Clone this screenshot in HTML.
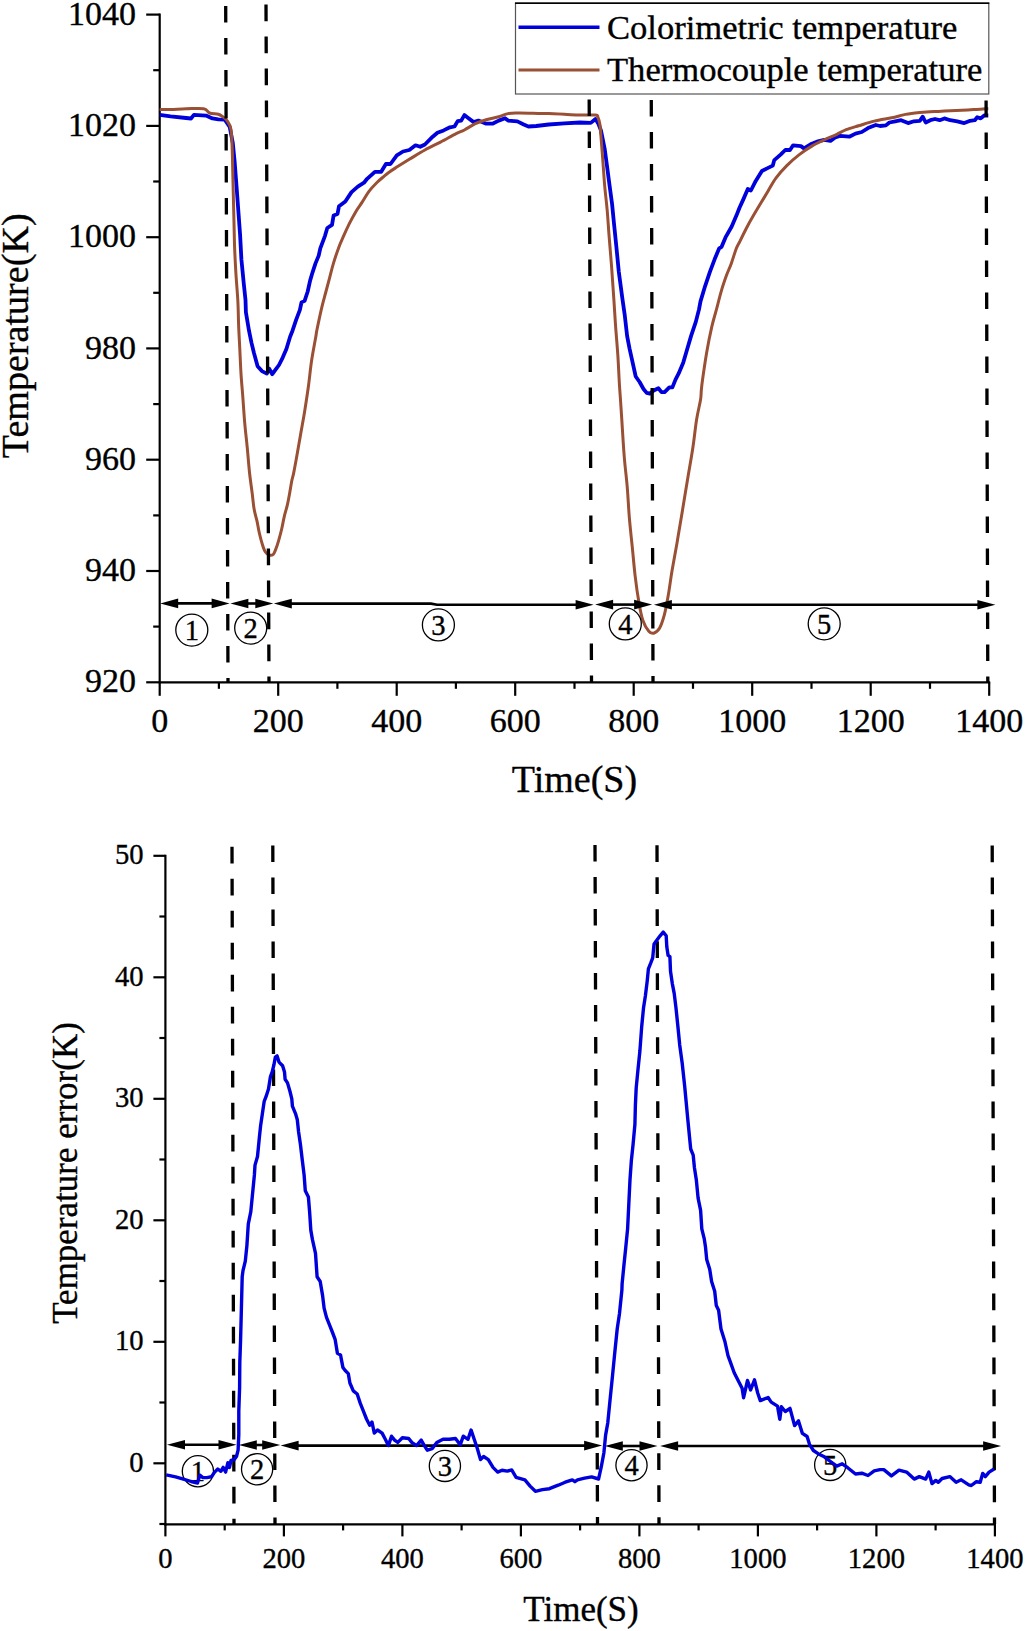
<!DOCTYPE html>
<html><head><meta charset="utf-8"><title>Temperature comparison</title>
<style>html,body{margin:0;padding:0;background:#fff;width:1025px;height:1631px;overflow:hidden}svg{display:block}text{stroke:#000;stroke-width:0.35px;paint-order:stroke}</style>
</head><body>
<svg width="1025" height="1631" viewBox="0 0 1025 1631" font-family="'Liberation Serif','Times New Roman',serif" fill="#000">
<rect width="1025" height="1631" fill="#fff"/>
<line x1="159.7" y1="13.6" x2="159.7" y2="683.3" stroke="#000" stroke-width="2.2"/>
<line x1="158.7" y1="682.3" x2="990.2" y2="682.3" stroke="#000" stroke-width="2.2"/>
<line x1="146.2" y1="14.6" x2="159.7" y2="14.6" stroke="#000" stroke-width="2.2"/>
<text x="136" y="24.7" font-size="34" text-anchor="end">1040</text>
<line x1="146.2" y1="125.9" x2="159.7" y2="125.9" stroke="#000" stroke-width="2.2"/>
<text x="136" y="135.9" font-size="34" text-anchor="end">1020</text>
<line x1="146.2" y1="237.2" x2="159.7" y2="237.2" stroke="#000" stroke-width="2.2"/>
<text x="136" y="247.2" font-size="34" text-anchor="end">1000</text>
<line x1="146.2" y1="348.4" x2="159.7" y2="348.4" stroke="#000" stroke-width="2.2"/>
<text x="136" y="358.5" font-size="34" text-anchor="end">980</text>
<line x1="146.2" y1="459.7" x2="159.7" y2="459.7" stroke="#000" stroke-width="2.2"/>
<text x="136" y="469.8" font-size="34" text-anchor="end">960</text>
<line x1="146.2" y1="571.0" x2="159.7" y2="571.0" stroke="#000" stroke-width="2.2"/>
<text x="136" y="581.1" font-size="34" text-anchor="end">940</text>
<line x1="146.2" y1="682.3" x2="159.7" y2="682.3" stroke="#000" stroke-width="2.2"/>
<text x="136" y="692.3" font-size="34" text-anchor="end">920</text>
<line x1="153.2" y1="70.2" x2="159.7" y2="70.2" stroke="#000" stroke-width="2.2"/>
<line x1="153.2" y1="181.5" x2="159.7" y2="181.5" stroke="#000" stroke-width="2.2"/>
<line x1="153.2" y1="292.8" x2="159.7" y2="292.8" stroke="#000" stroke-width="2.2"/>
<line x1="153.2" y1="404.1" x2="159.7" y2="404.1" stroke="#000" stroke-width="2.2"/>
<line x1="153.2" y1="515.4" x2="159.7" y2="515.4" stroke="#000" stroke-width="2.2"/>
<line x1="153.2" y1="626.6" x2="159.7" y2="626.6" stroke="#000" stroke-width="2.2"/>
<line x1="159.7" y1="682.3" x2="159.7" y2="695.8" stroke="#000" stroke-width="2.2"/>
<text x="159.7" y="731.5" font-size="34" text-anchor="middle">0</text>
<line x1="218.9" y1="682.3" x2="218.9" y2="688.8" stroke="#000" stroke-width="2.2"/>
<line x1="278.2" y1="682.3" x2="278.2" y2="695.8" stroke="#000" stroke-width="2.2"/>
<text x="278.2" y="731.5" font-size="34" text-anchor="middle">200</text>
<line x1="337.4" y1="682.3" x2="337.4" y2="688.8" stroke="#000" stroke-width="2.2"/>
<line x1="396.7" y1="682.3" x2="396.7" y2="695.8" stroke="#000" stroke-width="2.2"/>
<text x="396.7" y="731.5" font-size="34" text-anchor="middle">400</text>
<line x1="455.9" y1="682.3" x2="455.9" y2="688.8" stroke="#000" stroke-width="2.2"/>
<line x1="515.2" y1="682.3" x2="515.2" y2="695.8" stroke="#000" stroke-width="2.2"/>
<text x="515.2" y="731.5" font-size="34" text-anchor="middle">600</text>
<line x1="574.5" y1="682.3" x2="574.5" y2="688.8" stroke="#000" stroke-width="2.2"/>
<line x1="633.7" y1="682.3" x2="633.7" y2="695.8" stroke="#000" stroke-width="2.2"/>
<text x="633.7" y="731.5" font-size="34" text-anchor="middle">800</text>
<line x1="693.0" y1="682.3" x2="693.0" y2="688.8" stroke="#000" stroke-width="2.2"/>
<line x1="752.2" y1="682.3" x2="752.2" y2="695.8" stroke="#000" stroke-width="2.2"/>
<text x="752.2" y="731.5" font-size="34" text-anchor="middle">1000</text>
<line x1="811.5" y1="682.3" x2="811.5" y2="688.8" stroke="#000" stroke-width="2.2"/>
<line x1="870.7" y1="682.3" x2="870.7" y2="695.8" stroke="#000" stroke-width="2.2"/>
<text x="870.7" y="731.5" font-size="34" text-anchor="middle">1200</text>
<line x1="930.0" y1="682.3" x2="930.0" y2="688.8" stroke="#000" stroke-width="2.2"/>
<line x1="989.2" y1="682.3" x2="989.2" y2="695.8" stroke="#000" stroke-width="2.2"/>
<text x="989.2" y="731.5" font-size="34" text-anchor="middle">1400</text>
<text x="574.5" y="791.5" font-size="38" text-anchor="middle">Time(S)</text>
<text transform="translate(28,335.8) rotate(-90)" font-size="38.1" text-anchor="middle">Temperature(K)</text>
<line x1="165.4" y1="854.8" x2="165.4" y2="1525.4" stroke="#000" stroke-width="2.2"/>
<line x1="164.4" y1="1524.4" x2="995.9" y2="1524.4" stroke="#000" stroke-width="2.2"/>
<line x1="153.4" y1="855.8" x2="165.4" y2="855.8" stroke="#000" stroke-width="2.2"/>
<text x="143.5" y="864.0" font-size="28.6" text-anchor="end">50</text>
<line x1="153.4" y1="977.3" x2="165.4" y2="977.3" stroke="#000" stroke-width="2.2"/>
<text x="143.5" y="985.5" font-size="28.6" text-anchor="end">40</text>
<line x1="153.4" y1="1098.8" x2="165.4" y2="1098.8" stroke="#000" stroke-width="2.2"/>
<text x="143.5" y="1107.0" font-size="28.6" text-anchor="end">30</text>
<line x1="153.4" y1="1220.3" x2="165.4" y2="1220.3" stroke="#000" stroke-width="2.2"/>
<text x="143.5" y="1228.5" font-size="28.6" text-anchor="end">20</text>
<line x1="153.4" y1="1341.8" x2="165.4" y2="1341.8" stroke="#000" stroke-width="2.2"/>
<text x="143.5" y="1350.0" font-size="28.6" text-anchor="end">10</text>
<line x1="153.4" y1="1463.3" x2="165.4" y2="1463.3" stroke="#000" stroke-width="2.2"/>
<text x="143.5" y="1471.5" font-size="28.6" text-anchor="end">0</text>
<line x1="159.4" y1="916.5" x2="165.4" y2="916.5" stroke="#000" stroke-width="2.2"/>
<line x1="159.4" y1="1038.0" x2="165.4" y2="1038.0" stroke="#000" stroke-width="2.2"/>
<line x1="159.4" y1="1159.5" x2="165.4" y2="1159.5" stroke="#000" stroke-width="2.2"/>
<line x1="159.4" y1="1281.0" x2="165.4" y2="1281.0" stroke="#000" stroke-width="2.2"/>
<line x1="159.4" y1="1402.5" x2="165.4" y2="1402.5" stroke="#000" stroke-width="2.2"/>
<line x1="159.4" y1="1524.0" x2="165.4" y2="1524.0" stroke="#000" stroke-width="2.2"/>
<line x1="165.4" y1="1524.4" x2="165.4" y2="1536.4" stroke="#000" stroke-width="2.2"/>
<text x="165.4" y="1567.5" font-size="28.6" text-anchor="middle">0</text>
<line x1="224.7" y1="1524.4" x2="224.7" y2="1530.4" stroke="#000" stroke-width="2.2"/>
<line x1="283.9" y1="1524.4" x2="283.9" y2="1536.4" stroke="#000" stroke-width="2.2"/>
<text x="283.9" y="1567.5" font-size="28.6" text-anchor="middle">200</text>
<line x1="343.1" y1="1524.4" x2="343.1" y2="1530.4" stroke="#000" stroke-width="2.2"/>
<line x1="402.4" y1="1524.4" x2="402.4" y2="1536.4" stroke="#000" stroke-width="2.2"/>
<text x="402.4" y="1567.5" font-size="28.6" text-anchor="middle">400</text>
<line x1="461.6" y1="1524.4" x2="461.6" y2="1530.4" stroke="#000" stroke-width="2.2"/>
<line x1="520.9" y1="1524.4" x2="520.9" y2="1536.4" stroke="#000" stroke-width="2.2"/>
<text x="520.9" y="1567.5" font-size="28.6" text-anchor="middle">600</text>
<line x1="580.1" y1="1524.4" x2="580.1" y2="1530.4" stroke="#000" stroke-width="2.2"/>
<line x1="639.4" y1="1524.4" x2="639.4" y2="1536.4" stroke="#000" stroke-width="2.2"/>
<text x="639.4" y="1567.5" font-size="28.6" text-anchor="middle">800</text>
<line x1="698.6" y1="1524.4" x2="698.6" y2="1530.4" stroke="#000" stroke-width="2.2"/>
<line x1="757.9" y1="1524.4" x2="757.9" y2="1536.4" stroke="#000" stroke-width="2.2"/>
<text x="757.9" y="1567.5" font-size="28.6" text-anchor="middle">1000</text>
<line x1="817.1" y1="1524.4" x2="817.1" y2="1530.4" stroke="#000" stroke-width="2.2"/>
<line x1="876.4" y1="1524.4" x2="876.4" y2="1536.4" stroke="#000" stroke-width="2.2"/>
<text x="876.4" y="1567.5" font-size="28.6" text-anchor="middle">1200</text>
<line x1="935.6" y1="1524.4" x2="935.6" y2="1530.4" stroke="#000" stroke-width="2.2"/>
<line x1="994.9" y1="1524.4" x2="994.9" y2="1536.4" stroke="#000" stroke-width="2.2"/>
<text x="994.9" y="1567.5" font-size="28.6" text-anchor="middle">1400</text>
<text x="581" y="1621" font-size="35" text-anchor="middle">Time(S)</text>
<text transform="translate(76.5,1173) rotate(-90)" font-size="35" text-anchor="middle">Temperature error(K)</text>
<polyline points="159.7,114.8 170.6,116.3 186.2,118.0 191.0,118.5 193.9,114.9 206.0,115.6 212.4,118.4 218.3,119.3 224.8,119.6 229.7,127.0 232.8,142.9 234.6,161.3 236.5,185.8 238.3,210.4 240.1,234.9 241.4,259.4 243.8,283.9 245.5,300.0 245.9,312.3 249.0,330.7 251.5,342.9 253.9,352.7 257.6,366.2 261.9,371.1 266.8,373.6 269.2,368.7 272.3,374.2 275.4,369.9 279.0,365.0 282.7,357.6 286.4,349.0 290.1,336.8 292.5,330.7 296.2,319.6 299.9,309.8 301.5,302.4 304.6,300.9 307.7,291.5 310.1,280.6 312.4,272.8 315.5,263.4 318.7,255.6 320.3,248.3 325.0,235.8 327.3,228.0 332.0,224.9 333.6,215.5 337.5,214.0 339.0,206.2 345.3,201.5 351.5,192.1 357.8,186.6 364.0,182.7 367.1,178.8 374.9,171.8 381.2,171.8 385.9,164.0 390.5,164.0 396.8,155.4 403.0,151.5 409.3,150.0 415.5,145.3 420.2,146.8 424.9,144.5 432.7,136.7 437.4,132.8 443.6,130.4 449.9,127.3 454.5,126.5 457.7,121.1 461.2,120.6 464.4,115.1 467.5,117.5 473.7,122.1 478.4,120.6 486.2,123.7 492.5,123.7 498.7,120.6 505.0,118.2 508.1,120.6 517.4,121.4 523.7,124.5 528.4,126.5 536.2,126.0 548.7,124.5 564.3,123.4 579.9,122.5 590.8,122.9 595.5,119.0 598.5,124.0 601.0,130.7 604.7,149.0 607.2,167.4 609.6,185.8 612.1,204.2 613.9,222.6 616.4,247.1 618.8,271.7 622.3,298.0 624.8,315.6 627.1,335.9 629.5,348.4 632.6,362.4 635.7,376.5 639.6,382.0 643.5,389.0 646.7,392.9 649.8,393.7 653.7,390.5 658.4,388.2 661.5,392.1 664.6,392.1 669.3,387.4 672.4,387.4 675.5,379.6 678.7,373.4 683.3,362.4 686.5,351.5 691.1,335.9 695.8,321.9 699.0,309.4 700.5,301.4 705.2,285.8 709.9,271.8 714.6,259.3 719.2,248.3 721.6,246.8 725.5,237.4 731.7,226.5 736.4,215.6 739.5,207.8 743.1,199.9 747.8,189.0 750.9,190.5 755.6,181.2 761.9,171.0 768.1,167.9 772.8,165.6 774.3,160.1 780.6,154.6 785.3,150.0 790.0,150.0 793.1,145.3 800.9,146.1 804.0,148.4 811.8,143.7 818.0,141.4 824.3,139.8 830.5,140.9 835.2,137.5 839.9,135.9 849.3,136.7 855.5,133.6 861.8,132.0 868.0,128.1 875.8,125.0 880.0,126.0 885.9,125.4 889.4,122.5 895.2,121.3 901.1,120.2 908.1,123.1 913.9,121.3 919.8,120.8 922.7,116.7 925.7,122.5 930.3,120.2 935.0,119.0 939.7,120.2 944.4,118.4 950.2,120.2 957.3,121.3 964.3,123.1 970.1,120.8 974.8,120.2 977.2,117.2 980.7,118.4 984.2,115.5 988.3,115.5" fill="none" stroke="#0000dc" stroke-width="3.8" stroke-linejoin="round"/>
<path d="M159.7,109.5C161.5,109.5 166.2,109.6 170.6,109.5C175.0,109.4 180.7,108.9 186.2,108.8C191.7,108.7 199.8,108.0 203.7,108.7C207.6,109.4 207.1,112.1 209.5,113.0C211.9,113.9 216.1,113.6 218.3,114.2C220.5,114.8 221.3,115.7 222.8,116.8C224.3,117.9 225.8,118.7 227.2,120.8C228.6,122.9 230.2,124.7 231.0,129.4C231.8,134.1 231.9,141.6 232.2,149.0C232.5,156.4 232.6,165.4 232.8,173.6C233.0,181.8 233.2,189.9 233.4,198.1C233.6,206.3 233.8,214.4 234.0,222.6C234.2,230.8 234.3,238.9 234.6,247.1C234.9,255.3 235.3,262.9 235.8,271.7C236.3,280.5 237.3,291.2 237.8,300.0C238.3,308.8 238.3,316.3 238.6,324.5C238.9,332.7 239.4,340.8 239.8,349.0C240.2,357.2 240.5,365.4 241.0,373.6C241.5,381.8 242.3,389.9 242.9,398.1C243.5,406.3 244.0,414.4 244.7,422.6C245.4,430.8 246.4,439.0 247.2,447.1C248.0,455.2 248.6,463.8 249.4,471.5C250.2,479.2 251.4,487.1 252.2,493.4C253.0,499.6 253.3,504.4 254.1,509.0C254.9,513.5 256.0,516.8 256.9,520.7C257.8,524.6 258.3,528.6 259.2,532.5C260.1,536.4 261.3,541.0 262.3,544.2C263.3,547.5 264.2,550.2 265.4,552.0C266.6,553.8 268.0,554.7 269.3,555.1C270.6,555.5 272.2,555.2 273.3,554.3C274.4,553.4 274.7,551.9 275.6,549.6C276.5,547.3 277.7,543.8 278.7,540.3C279.7,536.8 280.9,532.4 281.8,528.5C282.7,524.6 283.3,520.7 284.2,516.8C285.1,512.9 286.4,509.0 287.3,505.1C288.2,501.2 288.9,497.3 289.6,493.4C290.3,489.5 291.0,484.9 291.6,481.7C292.2,478.4 292.7,477.6 293.5,473.9C294.3,470.2 295.0,465.9 296.2,459.4C297.4,452.9 299.1,443.1 300.5,434.9C301.9,426.7 303.5,418.6 304.8,410.4C306.1,402.2 307.4,394.0 308.5,385.8C309.6,377.6 310.3,369.5 311.5,361.3C312.7,353.1 314.9,342.0 315.8,336.8C316.7,331.6 315.9,334.9 316.9,330.0C317.9,325.1 320.3,313.6 321.8,307.3C323.3,301.1 324.4,297.4 325.7,292.5C327.0,287.6 328.3,282.7 329.6,277.8C330.9,272.9 332.0,268.0 333.5,263.1C335.0,258.2 336.8,252.8 338.4,248.4C340.0,244.0 341.5,240.8 343.3,236.7C345.1,232.6 347.1,228.2 349.2,223.9C351.3,219.7 354.0,214.8 356.1,211.2C358.2,207.6 359.9,205.7 362.0,202.4C364.1,199.1 366.4,194.9 368.8,191.6C371.2,188.3 374.1,185.3 376.7,182.7C379.3,180.1 382.4,177.7 384.5,175.9C386.6,174.1 387.3,173.5 389.4,172.0C391.4,170.5 393.5,169.2 396.8,167.1C400.1,165.0 404.6,162.2 409.3,159.3C414.0,156.5 419.7,152.9 424.9,150.0C430.1,147.1 435.3,144.8 440.5,142.1C445.7,139.4 452.1,135.6 456.1,133.6C460.1,131.6 461.2,131.7 464.4,130.0C467.6,128.3 471.7,125.4 475.3,123.7C478.9,122.0 482.3,121.0 486.2,119.8C490.1,118.6 495.0,117.7 498.7,116.7C502.4,115.7 505.0,114.2 508.1,113.6C511.2,113.0 513.2,113.1 517.4,113.1C521.5,113.0 527.8,113.2 533.0,113.3C538.2,113.4 543.5,113.4 548.7,113.6C553.9,113.8 559.1,114.0 564.3,114.3C569.5,114.5 574.7,115.0 579.9,115.1C585.1,115.2 592.5,114.7 595.5,115.1C598.5,115.5 597.2,115.8 598.0,117.5C598.8,119.2 599.5,121.8 600.0,125.0C600.5,128.2 600.5,130.8 601.0,136.8C601.5,142.9 602.3,153.1 602.9,161.3C603.5,169.5 604.0,177.6 604.7,185.8C605.4,194.0 606.5,202.2 607.2,210.4C607.9,218.6 608.3,225.7 609.0,234.9C609.7,244.1 610.7,254.7 611.5,265.5C612.3,276.4 613.2,290.4 613.9,300.0C614.5,309.6 614.8,314.3 615.4,323.4C616.0,332.5 617.1,344.2 617.8,354.6C618.5,365.0 619.0,378.3 619.5,385.9C620.0,393.5 620.0,392.8 620.5,400.0C621.0,407.2 621.8,419.6 622.4,429.3C623.0,439.1 623.6,448.8 624.4,458.5C625.2,468.2 626.5,478.0 627.3,487.8C628.1,497.6 628.5,507.4 629.3,517.1C630.1,526.9 631.2,536.5 632.2,546.3C633.2,556.0 634.0,566.2 635.1,575.6C636.2,585.0 637.7,595.4 639.0,602.9C640.3,610.4 641.3,615.8 642.9,620.5C644.5,625.2 647.0,629.1 648.8,631.2C650.6,633.3 651.9,633.7 653.7,633.2C655.5,632.7 657.7,631.4 659.5,628.3C661.3,625.2 662.9,620.1 664.4,614.6C665.9,609.1 667.0,602.6 668.3,595.1C669.6,587.6 670.7,578.6 672.2,569.8C673.7,561.0 675.5,551.8 677.1,542.4C678.7,533.0 680.2,523.9 682.0,513.2C683.8,502.5 686.0,488.7 687.8,478.0C689.6,467.3 691.2,458.6 692.7,448.8C694.2,439.1 695.3,427.6 696.6,419.5C697.9,411.4 699.7,404.8 700.5,400.0C701.3,395.2 701.0,393.8 701.3,390.5C701.6,387.2 701.6,386.5 702.5,380.0C703.4,373.5 705.3,360.5 706.8,351.7C708.3,342.9 710.1,334.2 711.7,327.1C713.3,320.0 715.0,314.9 716.6,308.8C718.2,302.7 719.9,295.9 721.5,290.4C723.1,284.9 724.8,280.1 726.4,275.6C728.0,271.1 729.7,267.9 731.3,263.4C732.9,258.9 734.8,252.4 736.2,248.7C737.6,245.0 738.3,244.6 739.9,241.3C741.5,238.0 743.8,233.3 746.0,229.0C748.2,224.7 750.9,219.9 753.4,215.6C755.9,211.3 758.2,207.4 760.7,203.3C763.2,199.2 765.6,195.2 768.1,191.0C770.6,186.8 772.8,182.3 775.9,178.1C779.0,173.9 782.9,169.5 786.8,165.6C790.7,161.7 795.1,157.8 799.3,154.6C803.5,151.3 807.6,148.6 811.8,146.1C816.0,143.6 820.1,141.8 824.3,139.8C828.5,137.8 833.1,136.0 836.8,134.3C840.4,132.6 842.6,131.1 846.2,129.7C849.8,128.3 853.9,127.2 858.6,125.8C863.3,124.4 868.7,122.4 874.2,121.1C879.7,119.8 886.8,118.8 891.7,117.8C896.6,116.8 899.5,115.7 903.4,114.9C907.3,114.1 911.2,113.6 915.1,113.1C919.0,112.6 922.9,112.3 926.8,112.0C930.7,111.7 934.6,111.6 938.5,111.4C942.4,111.2 946.3,111.0 950.2,110.8C954.1,110.6 958.0,110.4 961.9,110.2C965.8,110.0 969.8,109.8 973.7,109.6C977.6,109.4 983.0,108.9 985.4,108.8C987.8,108.7 987.8,108.8 988.3,108.8" fill="none" stroke="#9a5034" stroke-width="3.0" stroke-linejoin="round"/>
<line x1="225.7" y1="5.9" x2="228" y2="682" stroke="#000" stroke-width="3.3" stroke-dasharray="16.6 15.4"/>
<line x1="266" y1="4.6" x2="269" y2="682" stroke="#000" stroke-width="3.3" stroke-dasharray="16.6 15.4"/>
<line x1="588.8" y1="3.4" x2="591.5" y2="682" stroke="#000" stroke-width="3.3" stroke-dasharray="16.6 15.4"/>
<line x1="651" y1="4.0" x2="653" y2="682" stroke="#000" stroke-width="3.3" stroke-dasharray="16.6 15.4"/>
<line x1="985.8" y1="4.5" x2="987.8" y2="682" stroke="#000" stroke-width="3.3" stroke-dasharray="16.6 15.4"/>
<line x1="232" y1="846.8" x2="234" y2="1524" stroke="#000" stroke-width="3.3" stroke-dasharray="16.6 15.4"/>
<line x1="272.8" y1="845.4" x2="275" y2="1524" stroke="#000" stroke-width="3.3" stroke-dasharray="16.6 15.4"/>
<line x1="595" y1="845" x2="597.5" y2="1524" stroke="#000" stroke-width="3.3" stroke-dasharray="16.6 15.4"/>
<line x1="657" y1="845.3" x2="659" y2="1524" stroke="#000" stroke-width="3.3" stroke-dasharray="16.6 15.4"/>
<line x1="992.2" y1="845.6" x2="994.5" y2="1524" stroke="#000" stroke-width="3.3" stroke-dasharray="16.6 15.4"/>
<line x1="177.2" y1="603.4" x2="212.6" y2="603.4" stroke="#000" stroke-width="2.6"/><polygon points="160.2,603.4 178.2,598.6 178.2,608.2" fill="#000"/><polygon points="229.6,603.4 211.6,598.6 211.6,608.2" fill="#000"/>
<line x1="247.4" y1="603.5" x2="256.3" y2="603.5" stroke="#000" stroke-width="2.6"/><polygon points="230.4,603.5 248.4,598.7 248.4,608.3" fill="#000"/><polygon points="273.3,603.5 255.3,598.7 255.3,608.3" fill="#000"/>
<polyline points="290.8,603.6 431,603.6 437,604.7 576.6,604.7" fill="none" stroke="#000" stroke-width="2.6"/>
<polygon points="273.8,603.6 291.8,598.8 291.8,608.4" fill="#000"/>
<polygon points="593.6,604.7 575.6,599.9 575.6,609.5" fill="#000"/>
<line x1="612.1" y1="604.6" x2="635.1" y2="604.6" stroke="#000" stroke-width="2.6"/><polygon points="595.1,604.6 613.1,599.8 613.1,609.4" fill="#000"/><polygon points="652.1,604.6 634.1,599.8 634.1,609.4" fill="#000"/>
<line x1="670.9" y1="604.7" x2="978.4" y2="604.7" stroke="#000" stroke-width="2.6"/><polygon points="653.9,604.7 671.9,599.9 671.9,609.5" fill="#000"/><polygon points="995.4,604.7 977.4,599.9 977.4,609.5" fill="#000"/>
<line x1="184.0" y1="1444.8" x2="219.5" y2="1444.8" stroke="#000" stroke-width="2.6"/><polygon points="167.0,1444.8 185.0,1440.0 185.0,1449.6" fill="#000"/><polygon points="236.5,1444.8 218.5,1440.0 218.5,1449.6" fill="#000"/>
<line x1="255.8" y1="1445" x2="263.2" y2="1445" stroke="#000" stroke-width="2.6"/><polygon points="238.8,1445 256.8,1440.2 256.8,1449.8" fill="#000"/><polygon points="280.2,1445 262.2,1440.2 262.2,1449.8" fill="#000"/>
<line x1="297.6" y1="1445.6" x2="585.1" y2="1445.6" stroke="#000" stroke-width="2.6"/><polygon points="280.6,1445.6 298.6,1440.8 298.6,1450.4" fill="#000"/><polygon points="602.1,1445.6 584.1,1440.8 584.1,1450.4" fill="#000"/>
<line x1="621.8" y1="1446" x2="640.5" y2="1446" stroke="#000" stroke-width="2.6"/><polygon points="604.8,1446 622.8,1441.2 622.8,1450.8" fill="#000"/><polygon points="657.5,1446 639.5,1441.2 639.5,1450.8" fill="#000"/>
<line x1="677.1" y1="1446" x2="984.1" y2="1446" stroke="#000" stroke-width="2.6"/><polygon points="660.1,1446 678.1,1441.2 678.1,1450.8" fill="#000"/><polygon points="1001.1,1446 983.1,1441.2 983.1,1450.8" fill="#000"/>
<circle cx="191.8" cy="630.1" r="16" fill="none" stroke="#000" stroke-width="1.3"/><text x="191.8" y="639.8" font-size="28.5" text-anchor="middle">1</text>
<circle cx="250.7" cy="628.1" r="16" fill="none" stroke="#000" stroke-width="1.3"/><text x="250.7" y="637.8" font-size="28.5" text-anchor="middle">2</text>
<circle cx="438.4" cy="624.9" r="16" fill="none" stroke="#000" stroke-width="1.3"/><text x="438.4" y="634.6" font-size="28.5" text-anchor="middle">3</text>
<circle cx="625.3" cy="623.9" r="16" fill="none" stroke="#000" stroke-width="1.3"/><text x="625.3" y="633.6" font-size="28.5" text-anchor="middle">4</text>
<circle cx="824.2" cy="623.8" r="16" fill="none" stroke="#000" stroke-width="1.3"/><text x="824.2" y="633.5" font-size="28.5" text-anchor="middle">5</text>
<circle cx="197.9" cy="1471.3" r="15.6" fill="none" stroke="#000" stroke-width="1.3"/><text x="197.9" y="1481.0" font-size="28.5" text-anchor="middle">1</text>
<circle cx="257.1" cy="1469.3" r="15.6" fill="none" stroke="#000" stroke-width="1.3"/><text x="257.1" y="1479.0" font-size="28.5" text-anchor="middle">2</text>
<circle cx="444.9" cy="1465.9" r="15.6" fill="none" stroke="#000" stroke-width="1.3"/><text x="444.9" y="1475.6" font-size="28.5" text-anchor="middle">3</text>
<circle cx="631.5" cy="1465.3" r="15.6" fill="none" stroke="#000" stroke-width="1.3"/><text x="631.5" y="1475.0" font-size="28.5" text-anchor="middle">4</text>
<circle cx="830.2" cy="1464.9" r="15.6" fill="none" stroke="#000" stroke-width="1.3"/><text x="830.2" y="1474.6" font-size="28.5" text-anchor="middle">5</text>
<polyline points="166.2,1474.8 175.6,1476.8 183.4,1479.1 191.2,1481.5 197.5,1483.0 199.8,1475.2 202.9,1477.6 206.8,1477.6 211.5,1476.8 214.6,1472.1 217.8,1469.0 220.9,1471.3 223.2,1467.4 225.6,1472.1 227.9,1462.7 229.5,1467.4 231.0,1460.4 234.1,1459.6 236.5,1456.5 238.1,1450.2 238.8,1434.6 238.8,1411.2 239.6,1387.8 239.8,1362.7 240.6,1339.3 241.4,1308.1 242.2,1276.8 243.0,1270.6 245.3,1261.2 246.9,1245.6 248.3,1223.9 250.8,1211.7 252.0,1199.4 254.4,1174.9 255.0,1165.1 257.5,1156.5 259.3,1138.1 260.6,1125.8 262.4,1113.6 264.2,1101.3 266.1,1096.4 268.5,1089.0 270.4,1076.8 272.2,1071.9 274.0,1064.5 275.3,1057.2 277.1,1055.9 279.0,1062.1 282.6,1065.8 284.5,1071.9 285.1,1079.2 287.5,1082.9 290.0,1091.5 291.8,1098.9 292.4,1106.2 295.5,1113.6 297.3,1119.7 298.6,1132.0 300.4,1144.2 302.3,1160.2 304.1,1174.9 305.3,1190.8 308.4,1197.0 309.6,1211.7 310.8,1230.1 312.4,1239.4 315.5,1253.4 317.1,1276.8 320.2,1281.5 322.6,1295.6 324.1,1308.1 326.5,1317.4 329.6,1325.2 332.7,1333.0 335.1,1339.3 337.4,1353.3 340.5,1354.9 342.9,1367.4 345.2,1370.5 348.3,1373.6 349.9,1383.0 353.3,1390.9 357.2,1394.0 360.3,1403.4 363.4,1411.2 366.5,1419.0 369.7,1425.3 372.0,1422.1 374.3,1433.1 377.5,1430.0 382.1,1433.1 385.3,1439.3 388.4,1445.6 391.5,1436.2 394.6,1440.1 397.8,1442.4 402.4,1437.8 408.7,1438.5 411.8,1442.4 416.5,1445.6 421.2,1440.1 424.3,1445.6 427.4,1450.2 432.1,1448.7 436.8,1442.4 443.0,1439.3 449.3,1439.3 455.5,1438.5 460.2,1444.8 463.3,1436.2 468.0,1439.3 471.1,1430.0 474.2,1439.3 477.4,1448.7 480.5,1459.6 483.6,1456.5 488.3,1459.6 493.0,1467.4 497.7,1472.1 502.0,1470.2 507.3,1471.1 511.7,1469.9 516.1,1477.3 524.9,1479.9 530.1,1486.1 535.4,1491.3 542.4,1489.6 549.4,1488.7 558.2,1485.2 565.2,1482.2 572.3,1479.9 574.9,1481.7 577.5,1479.9 584.6,1478.2 591.6,1476.9 598.6,1479.0 601.3,1466.7 603.9,1452.7 605.6,1435.1 607.8,1422.7 610.1,1399.3 612.5,1375.9 614.8,1352.4 617.2,1329.0 619.5,1313.4 621.9,1290.0 622.1,1283.9 623.9,1265.5 625.8,1247.1 627.6,1228.8 628.8,1204.2 630.0,1179.7 631.3,1161.3 633.1,1144.1 634.9,1124.5 635.4,1105.0 636.2,1087.8 638.0,1069.4 639.9,1051.0 641.7,1026.5 643.5,1008.1 645.4,995.8 647.2,981.1 648.4,968.9 650.9,962.7 652.7,957.8 654.0,944.3 656.4,940.7 660.1,935.8 663.2,932.1 666.2,935.8 666.8,946.8 668.1,955.4 669.9,956.6 670.5,971.3 672.3,983.6 674.2,993.4 676.0,1008.1 677.9,1026.5 679.7,1044.9 682.2,1063.3 684.6,1085.4 687.7,1118.4 689.5,1136.8 690.7,1149.0 693.2,1155.2 694.4,1167.4 696.3,1179.7 698.1,1198.1 700.6,1210.4 701.8,1228.8 704.2,1238.6 705.5,1247.1 706.7,1259.4 709.7,1269.2 711.6,1281.5 714.7,1291.3 716.3,1305.6 718.6,1310.3 721.0,1329.0 724.9,1341.5 728.0,1355.6 730.3,1361.8 734.2,1372.7 738.9,1382.1 742.1,1388.3 743.6,1397.7 747.5,1380.5 750.6,1389.9 754.5,1379.8 757.7,1393.0 760.3,1400.6 768.1,1397.5 771.2,1402.1 777.5,1406.1 779.8,1419.3 781.4,1406.8 785.3,1411.5 790.0,1408.4 794.6,1425.6 798.5,1420.9 802.4,1433.4 807.1,1436.5 809.5,1444.3 813.4,1450.5 818.1,1453.7 824.3,1456.8 830.5,1461.5 836.8,1466.1 842.2,1463.8 847.7,1467.7 855.5,1474.0 861.8,1473.2 868.0,1475.5 874.2,1470.8 880.0,1469.6 883.8,1469.6 891.4,1475.9 899.0,1470.2 906.6,1472.1 914.2,1479.1 919.3,1476.6 925.7,1479.1 928.8,1472.1 932.0,1483.6 935.8,1480.4 938.3,1482.3 942.1,1478.5 949.8,1476.6 956.1,1482.3 961.2,1479.8 968.8,1484.8 971.3,1485.5 976.4,1481.7 980.2,1482.3 982.7,1473.4 985.3,1476.6 989.1,1472.1 994.1,1469.0" fill="none" stroke="#0000dc" stroke-width="3.4" stroke-linejoin="round"/>
<rect x="515.5" y="3" width="473.3" height="91" fill="#fff" stroke="#555" stroke-width="1.2"/>
<line x1="515" y1="3.2" x2="989.3" y2="3.2" stroke="#000" stroke-width="1.4"/>
<line x1="518.5" y1="27.2" x2="599.5" y2="27.2" stroke="#0000dc" stroke-width="3.6"/>
<line x1="518.5" y1="70" x2="599.5" y2="70" stroke="#9a5034" stroke-width="3.2"/>
<text x="607" y="39" font-size="34.6">Colorimetric temperature</text>
<text x="607" y="81" font-size="34.6">Thermocouple temperature</text>
</svg>
</body></html>
